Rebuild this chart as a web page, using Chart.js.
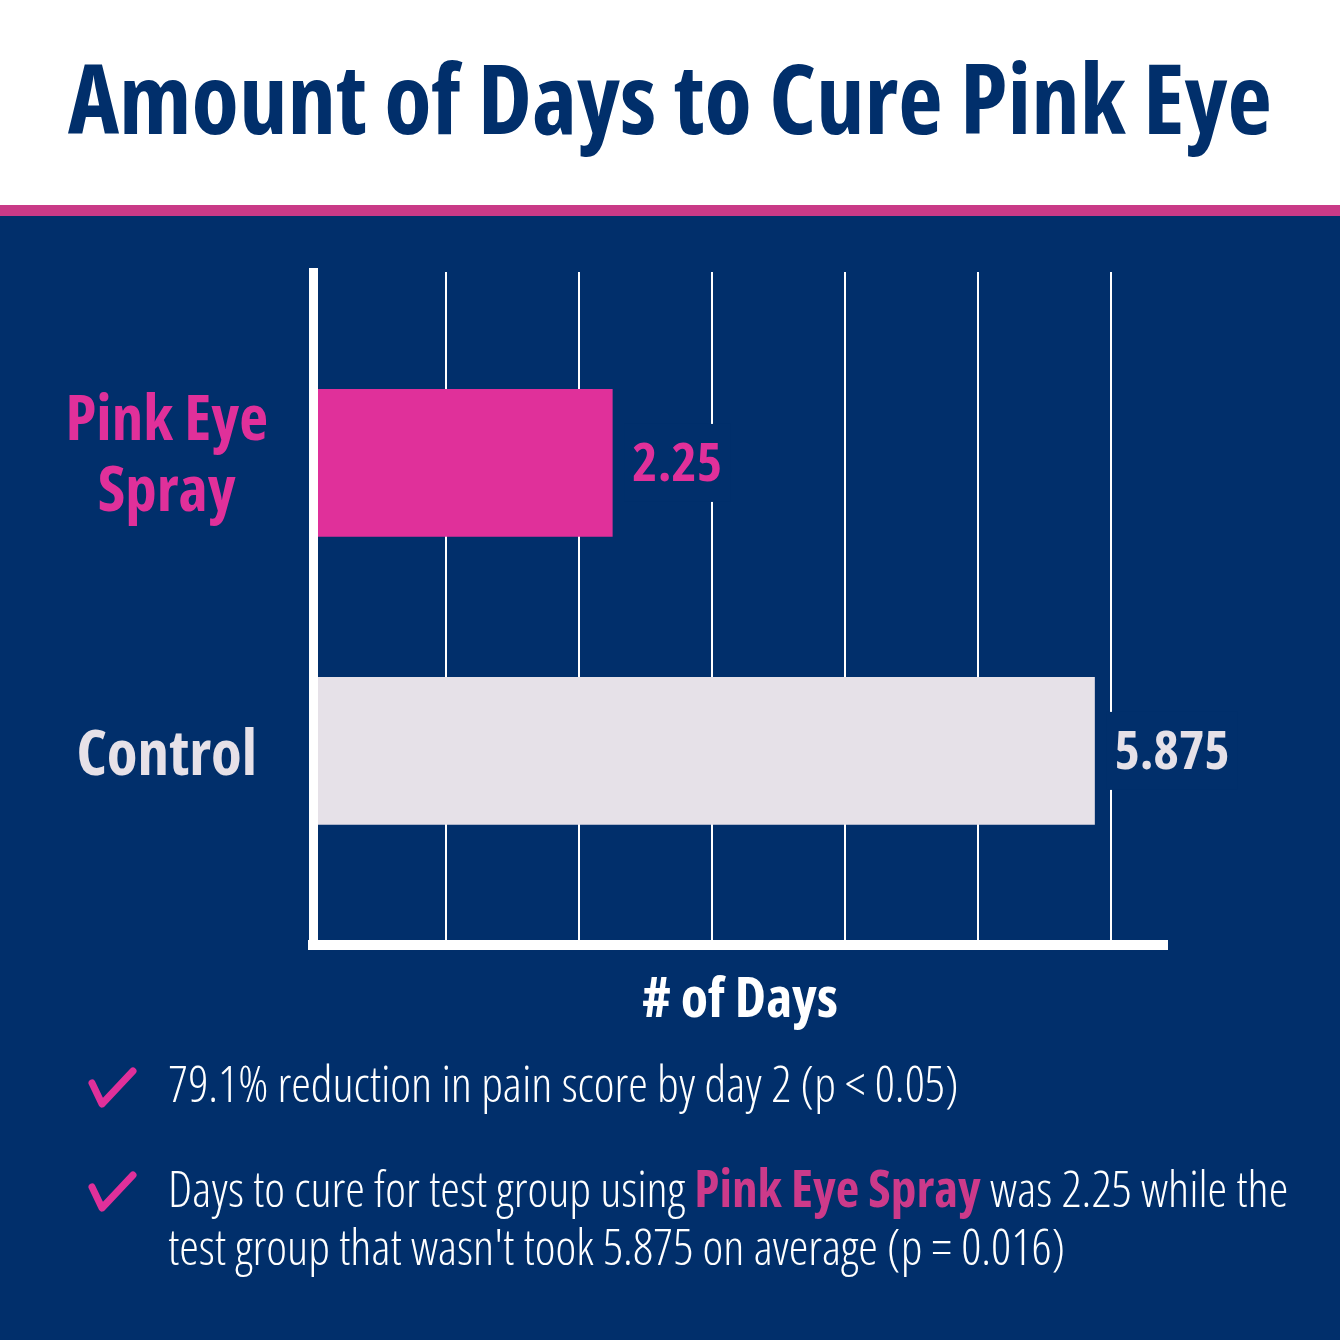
<!DOCTYPE html>
<html>
<head>
<meta charset="utf-8">
<script src="https://cdn.jsdelivr.net/npm/chart.js@4.4.1/dist/chart.umd.min.js"></script>
<style>
body { margin: 0; width: 1340px; height: 1340px; background: #012f6b; position: relative; overflow: hidden; font-family: 'Open Sans', sans-serif; font-stretch: condensed; }
#head { position: absolute; left: 0; top: 0; width: 1340px; height: 205px; background: #fff; }
#head h1 { margin: 0; position: absolute; left: 0; top: 48px; width: 1340px; text-align: center; font-size: 97px; font-weight: 700; line-height: 1; color: #012f6b; white-space: nowrap; }
#stripe { position: absolute; left: 0; top: 205px; width: 1340px; height: 11px; background: #c93a87; }
#wrap { position: absolute; left: 0; top: 216px; width: 1340px; height: 819px; }
.note { position: absolute; left: 168px; width: 1170px; color: #fff; font-weight: 300; font-size: 49.5px; line-height: 58px; white-space: nowrap; }
.note b { color: #cc3a8a; font-weight: 700; font-size: 51.3px; }
.check { position: absolute; left: 88px; }
</style>
</head>
<body>
<div id="head"><h1>Amount of Days to Cure Pink Eye</h1></div>
<div id="stripe"></div>
<div id="wrap"><canvas id="chart"></canvas></div>

<svg class="check" style="top:1064px" width="50" height="46"><path d="M4 19 L14 40 L45 7" fill="none" stroke="#e0309a" stroke-width="7" stroke-linecap="round" stroke-linejoin="round"/></svg>
<div class="note" style="top:1054px">79.1% reduction in pain score by day 2 (p &lt; 0.05)</div>

<svg class="check" style="top:1168px" width="50" height="46"><path d="M4 19 L14 40 L45 7" fill="none" stroke="#e0309a" stroke-width="7" stroke-linecap="round" stroke-linejoin="round"/></svg>
<div class="note" style="top:1158px">Days to cure for test group using <b>Pink Eye Spray</b> was 2.25 while the<br>test group that wasn't took 5.875 on average (p = 0.016)</div>

<script>
// data
var categories = [["Pink Eye", "Spray"], ["Control"]];
var days = [2.25, 5.875];
var barColors = ["#e0309a", "#e6e1e8"];
var labelColors = ["#e0309a", "#e6e1e8"];
var xTicks = [1, 2, 3, 4, 5, 6];

var navy = "#012f6b";
var family = "'Open Sans', sans-serif";
// small vertical nudge of the category labels (in category units)
var labelNudge = [-0.02, 0.02];

// value labels with a navy box that cuts the grid lines
var valueLabels = {
    id: "valueLabels",
    afterDatasetsDraw: function(chart) {
        var ctx = chart.ctx;
        var meta = chart.getDatasetMeta(0);
        ctx.save();
        ctx.font = "condensed 700 54px " + family;
        ctx.textBaseline = "alphabetic";
        meta.data.forEach(function(bar, i) {
            var text = String(days[i]);
            var w = ctx.measureText(text).width;
            var x = bar.x + 20;
            ctx.fillStyle = navy;
            ctx.fillRect(x - 8, bar.y - 39, w + 16, 78);
            ctx.fillStyle = labelColors[i];
            ctx.fillText(text, x, bar.y + 18);
        });
        ctx.restore();
    }
};

new Chart("chart", {
    type: "bar",
    data: {
        datasets: [
            {
                data: days.map(function(v, i) { return {x: v, y: i}; }),
                backgroundColor: barColors,
                barThickness: 147,
                borderWidth: 0
            }
        ]
    },
    options: {
        indexAxis: "y",
        responsive: true,
        maintainAspectRatio: false,
        animation: false,
        layout: {
            padding: {top: 56, right: 173, bottom: 0, left: 0}
        },
        plugins: {
            legend: {display: false},
            tooltip: {enabled: false}
        },
        scales: {
            x: {
                type: "linear",
                min: 0,
                max: 6.42,
                afterBuildTicks: function(scale) {
                    scale.ticks = xTicks.map(function(v) { return {value: v}; });
                },
                afterFit: function(scale) {
                    scale.height = 90;
                    scale.paddingLeft = 0;
                    scale.paddingRight = 0;
                },
                grid: {color: "#ffffff", lineWidth: 2, drawTicks: false},
                border: {display: true, color: "#ffffff", width: 10},
                ticks: {display: false},
                title: {
                    display: true,
                    text: "# of Days",
                    color: "#ffffff",
                    font: {family: family, weight: "condensed 700", size: 56, lineHeight: 1.2},
                    padding: {top: 23, bottom: 0}
                }
            },
            y: {
                type: "linear",
                reverse: true,
                offset: false,
                min: -0.663,
                max: 1.674,
                afterBuildTicks: function(scale) {
                    scale.ticks = categories.map(function(c, i) { return {value: i + labelNudge[i]}; });
                },
                afterFit: function(scale) {
                    scale.width = 313;
                    scale.paddingTop = 0;
                    scale.paddingBottom = 0;
                },
                grid: {display: false, drawTicks: false},
                border: {display: true, color: "#ffffff", width: 9, z: 1},
                ticks: {
                    padding: 45,
                    crossAlign: "center",
                    callback: function(value, index) { return categories[index]; },
                    color: function(c) { return labelColors[c.index]; },
                    font: {family: family, weight: "condensed 700", size: 63, lineHeight: 1.127}
                }
            }
        }
    },
    plugins: [valueLabels]
});
</script>
</body>
</html>
